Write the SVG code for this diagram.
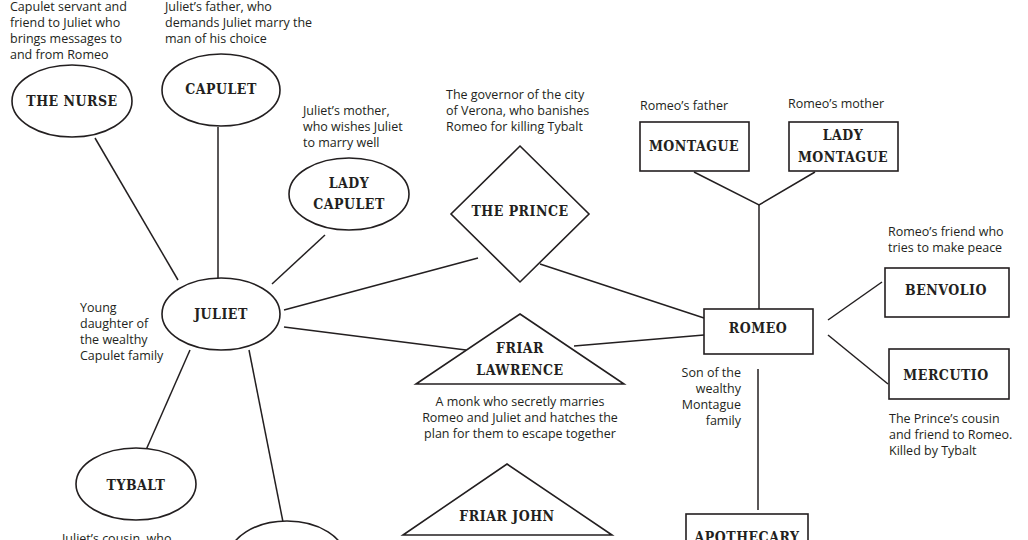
<svg xmlns="http://www.w3.org/2000/svg" width="1028" height="540" viewBox="0 0 1028 540">
<style>
.s{fill:#fff;stroke:#231f20;stroke-width:1.6}
.l{stroke:#231f20;stroke-width:1.5;fill:none}
.n{font-family:"DejaVu Serif Condensed","Liberation Serif",serif;font-weight:bold;font-size:14px;fill:#231f20;text-anchor:middle;letter-spacing:0.5px}
.d{font-family:"Open Sans","Liberation Sans",sans-serif;font-size:12.5px;fill:#231f20}
</style>
<rect width="1028" height="540" fill="#fff"/>
<g id="connectors" class="l">
<line x1="95" y1="138" x2="178" y2="280"/>
<line x1="218" y1="127" x2="218" y2="282"/>
<line x1="272" y1="284" x2="325" y2="235"/>
<line x1="284" y1="310" x2="478" y2="258"/>
<line x1="540" y1="264" x2="704" y2="318"/>
<line x1="284" y1="327" x2="466" y2="350"/>
<line x1="574" y1="346" x2="704" y2="335"/>
<line x1="190" y1="350" x2="146" y2="450"/>
<line x1="249" y1="350" x2="283" y2="522"/>
<polyline points="694,172 759,205 815,172"/>
<line x1="759" y1="205" x2="759" y2="309"/>
<line x1="828" y1="320" x2="882" y2="282"/>
<line x1="828" y1="335" x2="888" y2="384"/>
<line x1="758" y1="369" x2="758" y2="510"/>
</g>
<g id="nurse"><ellipse class="s" cx="72" cy="101" rx="60" ry="36"/><text class="n" x="72" y="106">THE NURSE</text></g>
<g id="capulet"><ellipse class="s" cx="221" cy="90" rx="59" ry="36"/><text class="n" x="221" y="94">CAPULET</text></g>
<g id="ladycapulet"><ellipse class="s" cx="349" cy="194" rx="60" ry="36"/><text class="n" x="349" y="188">LADY</text><text class="n" x="349" y="209">CAPULET</text></g>
<g id="juliet"><ellipse class="s" cx="221" cy="314" rx="59" ry="36"/><text class="n" x="221" y="319">JULIET</text></g>
<g id="prince"><polygon class="s" points="520,146 589,214 520,282 451,214"/><text class="n" x="520" y="216">THE PRINCE</text></g>
<g id="friarlawrence"><polygon class="s" points="520,314 624,384 416,384"/><text class="n" x="520" y="353">FRIAR</text><text class="n" x="520" y="375">LAWRENCE</text></g>
<g id="tybalt"><ellipse class="s" cx="136" cy="484" rx="60" ry="36"/><text class="n" x="136" y="490">TYBALT</text></g>
<g id="bottomcircle"><ellipse class="s" cx="287" cy="558" rx="58" ry="37"/></g>
<g id="friarjohn"><polygon class="s" points="507,464 612,535 403,535"/><text class="n" x="507" y="521">FRIAR JOHN</text></g>
<g id="montague"><rect class="s" x="640" y="122" width="109" height="49"/><text class="n" x="694" y="151">MONTAGUE</text></g>
<g id="ladymontague"><rect class="s" x="789" y="122" width="109" height="49"/><text class="n" x="843" y="140">LADY</text><text class="n" x="843" y="162">MONTAGUE</text></g>
<g id="romeo"><rect class="s" x="704" y="309" width="109" height="45"/><text class="n" x="758" y="333">ROMEO</text></g>
<g id="benvolio"><rect class="s" x="885" y="268" width="124" height="49"/><text class="n" x="946" y="295">BENVOLIO</text></g>
<g id="mercutio"><rect class="s" x="889" y="349" width="120" height="50"/><text class="n" x="946" y="380">MERCUTIO</text></g>
<g id="apothecary"><rect class="s" x="686" y="514" width="122" height="40"/><text class="n" x="747" y="542">APOTHECARY</text></g>
<g id="descriptions" class="d">
<text x="10" y="11">Capulet servant and</text><text x="10" y="27">friend to Juliet who</text><text x="10" y="43">brings messages to</text><text x="10" y="59">and from Romeo</text>
<text x="165" y="11">Juliet’s father, who</text><text x="165" y="27">demands Juliet marry the</text><text x="165" y="43">man of his choice</text>
<text x="303" y="115">Juliet’s mother,</text><text x="303" y="131">who wishes Juliet</text><text x="303" y="147">to marry well</text>
<text x="446" y="99">The governor of the city</text><text x="446" y="115">of Verona, who banishes</text><text x="446" y="131">Romeo for killing Tybalt</text>
<text x="640" y="110">Romeo’s father</text><text x="788" y="108">Romeo’s mother</text>
<text x="888" y="236">Romeo’s friend who</text><text x="888" y="252">tries to make peace</text>
<text x="80" y="312">Young</text><text x="80" y="328">daughter of</text><text x="80" y="344">the wealthy</text><text x="80" y="360">Capulet family</text>
<text x="741" y="377" text-anchor="end">Son of the</text><text x="741" y="393" text-anchor="end">wealthy</text><text x="741" y="409" text-anchor="end">Montague</text><text x="741" y="425" text-anchor="end">family</text>
<text x="520" y="406" text-anchor="middle">A monk who secretly marries</text><text x="520" y="422" text-anchor="middle">Romeo and Juliet and hatches the</text><text x="520" y="438" text-anchor="middle">plan for them to escape together</text>
<text x="889" y="423">The Prince’s cousin</text><text x="889" y="439">and friend to Romeo.</text><text x="889" y="455">Killed by Tybalt</text>
<text x="62" y="543">Juliet’s cousin, who</text>
</g>
</svg>
